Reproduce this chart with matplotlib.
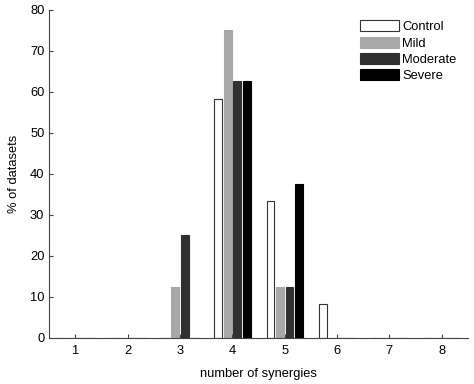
import numpy as np
import matplotlib
matplotlib.use("Agg")
import matplotlib.pyplot as plt

plt.rcParams['font.family'] = ['Liberation Sans', 'DejaVu Sans']

# % of datasets for each number of synergies
synergies = [1, 2, 3, 4, 5, 6, 7, 8]
control = [0, 0, 0, 58.3, 33.3, 8.3, 0, 0]
mild = [0, 0, 12.5, 75, 12.5, 0, 0, 0]
moderate = [0, 0, 25, 62.5, 12.5, 0, 0, 0]
severe = [0, 0, 0, 62.5, 37.5, 0, 0, 0]
groups = ["Control", "Mild", "Moderate", "Severe"]

fig = plt.figure(figsize=(4.74, 3.84), dpi=100)
ax = fig.add_axes([0.104, 0.12, 0.883, 0.855])

x = np.array(synergies)
step = 0.182
w = 0.15
series = [control, mild, moderate, severe]
faces = ["white", "#a8a8a8", "#303030", "black"]
edges = ["#333333", "#a8a8a8", "#303030", "black"]
for i, (vals, fc, ec, name) in enumerate(zip(series, faces, edges, groups)):
    ax.bar(x + (i - 1.5) * step, vals, width=w, color=fc, edgecolor=ec,
           linewidth=0.8, label=name)

ax.set_xlim(0.5, 8.5)
ax.set_ylim(0, 80)
ax.set_xticks(synergies)
ax.set_yticks(range(0, 81, 10))
ax.spines['top'].set_visible(False)
ax.spines['right'].set_visible(False)
ax.spines['left'].set_color('#444444')
ax.spines['bottom'].set_color('#444444')
ax.tick_params(direction='in', length=3, labelsize=9.3, color='#444444')
ax.tick_params(axis='x', pad=5)
ax.set_xlabel("number of synergies", fontsize=9.3, labelpad=8)
ax.set_ylabel("% of datasets", fontsize=9.3, labelpad=7)

ax.legend(loc='upper right', bbox_to_anchor=(0.995, 0.995), frameon=False,
          fontsize=9.3, handlelength=3.0, handleheight=0.95, labelspacing=0.25,
          handletextpad=0.3, borderaxespad=0.3)

fig.savefig("out.png", dpi=100)
